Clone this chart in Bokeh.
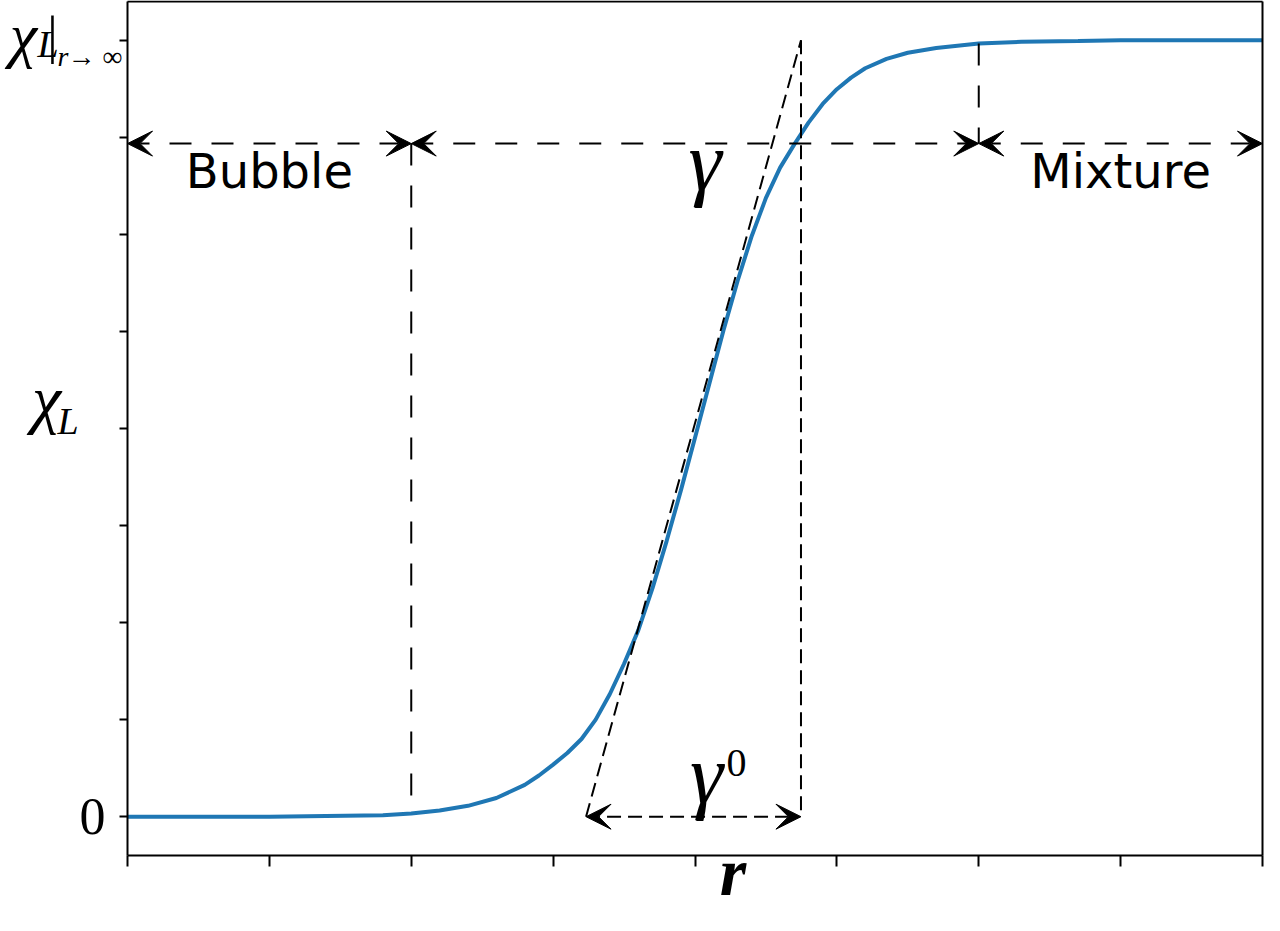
from bokeh.plotting import figure
from bokeh.models import Range1d, FixedTicker, Arrow, VeeHead, Label, LinearAxis
from bokeh.embed import file_html
from bokeh.resources import INLINE

# ---- data ----
r_vals = [0.0, 1.0, 1.8, 2.0, 2.2, 2.4, 2.6, 2.8, 2.9, 3.0, 3.1, 3.2, 3.3, 3.4, 3.5,
          3.6, 3.7, 3.8, 3.9, 4.0, 4.1, 4.2, 4.3, 4.4, 4.5, 4.6, 4.7, 4.8, 4.9,
          5.0, 5.1, 5.2, 5.35, 5.5, 5.7, 5.9, 6.0, 6.3, 6.7, 7.0, 8.0]
chi_vals = [0.0, 0.0, 0.002, 0.004, 0.008, 0.014, 0.024, 0.041, 0.053, 0.067, 0.082,
            0.100, 0.125, 0.158, 0.197, 0.240, 0.294, 0.355, 0.420, 0.488, 0.557,
            0.626, 0.690, 0.748, 0.797, 0.836, 0.866, 0.894, 0.918, 0.937, 0.952,
            0.964, 0.976, 0.984, 0.990, 0.994, 0.996, 0.998, 0.999, 1.0, 1.0]

tangent_r = [3.232, 4.747]
tangent_chi = [0.0, 1.0]

bubble_edge = 2.0
mixture_edge = 6.0
arrow_level = 0.867
x_min, x_max = 0.0, 8.0
y_min, y_max = -0.05, 1.05

x_ticks = [0, 1, 2, 3, 4, 5, 6, 7, 8]
y_ticks = [0, 0.125, 0.25, 0.375, 0.5, 0.625, 0.75, 0.875, 1.0]
y_tick_labels = {0: "0"}

long_dash_x0 = [bubble_edge, mixture_edge]
long_dash_y0 = [arrow_level, 0.996]
long_dash_y1 = [0.004, arrow_level]

# ---- layout: the frame fills the canvas, the box sits at fixed pixels ----
W, H = 1264, 915
box_left, box_right, box_top, box_bottom = 127, 1262, 1, 855
sx = (box_right - box_left) / (x_max - x_min)
sy = (box_bottom - box_top) / (y_max - y_min)
x_lo = x_min - box_left / sx
x_hi = x_max + (W - box_right) / sx
y_hi = y_max + box_top / sy
y_lo = y_min - (H - box_bottom) / sy

p = figure(width=W, height=H, output_backend="svg", toolbar_location=None,
           x_range=Range1d(x_lo, x_hi), y_range=Range1d(y_lo, y_hi),
           x_axis_location=None, y_axis_location=None, min_border=0)
p.background_fill_color = "white"
p.border_fill_color = "white"
p.outline_line_color = None
p.grid.visible = False


def style_axis(ax):
    ax.axis_line_color = "black"
    ax.axis_line_width = 2
    ax.major_tick_line_color = "black"
    ax.major_tick_line_width = 2
    ax.major_tick_in = 0
    ax.minor_tick_line_color = None
    return ax


xaxis = style_axis(LinearAxis(fixed_location=y_min, bounds=(x_min, x_max),
                              ticker=FixedTicker(ticks=x_ticks)))
xaxis.major_tick_out = 11
xaxis.major_label_overrides = {t: "" for t in x_ticks}
xaxis.major_label_text_font_size = "0px"
p.add_layout(xaxis, "below")

yaxis = style_axis(LinearAxis(fixed_location=x_min, bounds=(y_min, y_max),
                              ticker=FixedTicker(ticks=y_ticks)))
yaxis.major_tick_out = 8
yaxis.major_label_overrides = {t: y_tick_labels.get(t, "") for t in y_ticks}
yaxis.major_label_text_font = "Liberation Serif"
yaxis.major_label_text_font_size = "52px"
yaxis.major_label_text_color = "black"
yaxis.major_label_standoff = 14
p.add_layout(yaxis, "left")

top_axis = style_axis(LinearAxis(fixed_location=y_max, bounds=(x_min, x_max),
                                 ticker=FixedTicker(ticks=[])))
top_axis.major_label_text_font_size = "0px"
p.add_layout(top_axis, "above")

right_axis = style_axis(LinearAxis(fixed_location=x_max, bounds=(y_min, y_max),
                                   ticker=FixedTicker(ticks=[])))
right_axis.major_label_text_font_size = "0px"
p.add_layout(right_axis, "right")

# curve
p.line(r_vals, chi_vals, line_color="#1f77b4", line_width=4)

# tangent
p.line(tangent_r, tangent_chi, line_color="black", line_width=2, line_dash="14 7")

# vertical dashed guides
p.segment(x0=long_dash_x0, y0=long_dash_y0, x1=long_dash_x0, y1=long_dash_y1,
          line_color="black", line_width=2, line_dash="22 20")
p.segment(x0=[tangent_r[1]], y0=[tangent_chi[1]], x1=[tangent_r[1]], y1=[tangent_chi[0]],
          line_color="black", line_width=2, line_dash="14 7")


def head():
    return VeeHead(size=25, fill_color="black", line_color="black", line_width=1)


for xs, xe in [(x_min, bubble_edge), (bubble_edge, mixture_edge), (mixture_edge, x_max)]:
    p.add_layout(Arrow(start=head(), end=head(), x_start=xs, y_start=arrow_level,
                       x_end=xe, y_end=arrow_level, line_color="black", line_width=2,
                       line_dash="22 20"))

p.add_layout(Arrow(start=head(), end=head(), x_start=tangent_r[0], y_start=0.0,
                   x_end=tangent_r[1], y_end=0.0, line_color="black", line_width=2,
                   line_dash="14 7"))


def lab(x, y, text, dx, dy, size, font="Liberation Serif", style="normal",
        align="center", baseline="alphabetic"):
    p.add_layout(Label(x=x, y=y, text=text, x_offset=dx, y_offset=dy,
                       text_font=font, text_font_size=size, text_font_style=style,
                       text_align=align, text_baseline=baseline, text_color="black"))


# region labels
lab((x_min + bubble_edge) / 2, arrow_level, "Bubble", 0, -27, "48px", font="DejaVu Sans")
lab((mixture_edge + x_max) / 2, arrow_level, "Mixture", 0, -27, "48px", font="DejaVu Sans")
lab((bubble_edge + mixture_edge) / 2, arrow_level, "γ", 10, -18, "84px", style="italic")
gm = (tangent_r[0] + tangent_r[1]) / 2
lab(gm, 0.0, "γ", 13, 42, "84px", style="italic")
lab(gm, 0.0, "0", 33, 54, "40px", align="left")

# y tick math labels
lab(x_min, 0.5, "χ", -81, 30, "66px", style="italic")
lab(x_min, 0.5, "L", -70, 8, "38px", style="italic", align="left")
lab(x_min, 1.0, "χ", -104, 5, "62px", style="italic")
lab(x_min, 1.0, "L", -90, -4, "38px", style="italic", align="left")
lab(x_min, 1.0, "|", -75, 5, "52px")
lab(x_min, 1.0, "r", -70, -16, "28px", style="italic", align="left")
lab(x_min, 1.0, "→ ∞", -60, -16, "28px", align="left")

# x axis label
lab((x_min + x_max) / 2, y_min, "r", 38, -16, "68px", style="bold italic")

open("out.html", "w").write(file_html(p, INLINE))
